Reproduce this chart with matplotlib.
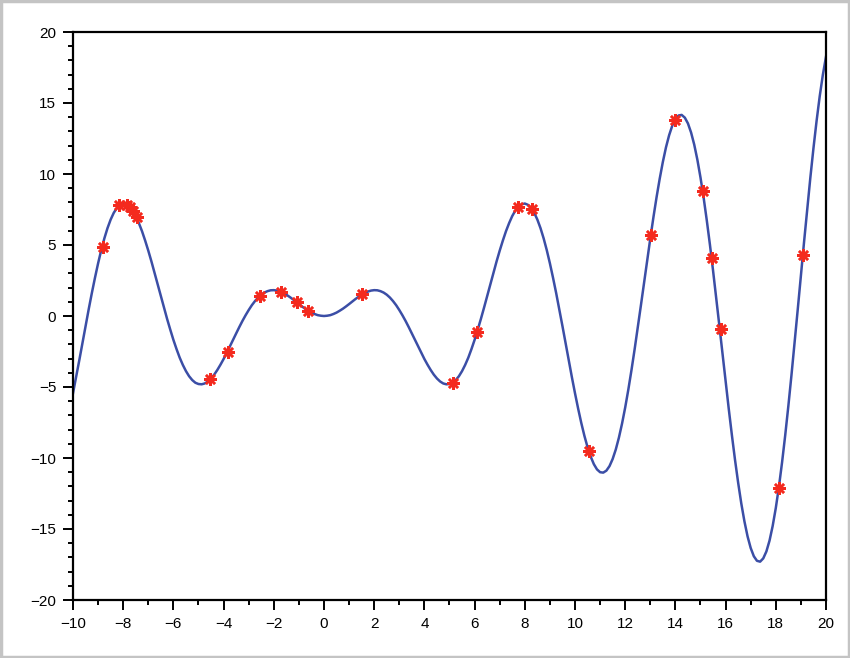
import numpy as np
import matplotlib
matplotlib.use("Agg")
import matplotlib.pyplot as plt
from matplotlib.patches import Rectangle
from matplotlib.ticker import MultipleLocator

# Curve samples; the curve is symmetric about x = 0.
# Values at x = 0, 0.25, 0.5, ..., 20
curve_y_grid = [0.00, 0.06, 0.24, 0.51, 0.84, 1.19, 1.50, 1.72, 1.82, 1.75,
                1.50, 1.05, 0.42, -0.35, -1.23, -2.14, -3.03, -3.80, -4.40, -4.75,
                -4.79, -4.51, -3.88, -2.93, -1.68, -0.21, 1.40, 3.04, 4.60, 5.97,
                7.04, 7.71, 7.92, 7.61, 6.79, 5.47, 3.71, 1.61, -0.71, -3.12,
                -5.44, -7.53, -9.24, -10.43, -11.00, -10.89, -10.07, -8.56, -6.44, -3.81,
                -0.83, 2.33, 5.46, 8.37, 10.85, 12.73, 13.87, 14.16, 13.56, 12.07,
                9.75, 6.74, 3.20, -0.66, -4.61, -8.38, -11.74, -14.46, -16.34, -17.24,
                -17.07, -15.82, -13.52, -10.30, -6.34, -1.86, 2.85, 7.50, 11.81, 15.48,
                18.26]
# Values at x = 0.125, 0.375, ..., 19.875
curve_y_half = [0.02, 0.14, 0.37, 0.67, 1.02, 1.35, 1.62, 1.79, 1.81, 1.65,
                1.30, 0.76, 0.05, -0.78, -1.68, -2.59, -3.43, -4.13, -4.61, -4.81,
                -4.70, -4.24, -3.44, -2.33, -0.96, 0.58, 2.22, 3.84, 5.31, 6.54,
                7.43, 7.87, 7.83, 7.27, 6.19, 4.64, 2.69, 0.47, -1.91, -4.30,
                -6.52, -8.44, -9.90, -10.80, -11.03, -10.57, -9.40, -7.57, -5.18, -2.35,
                0.74, 3.91, 6.96, 9.67, 11.88, 13.40, 14.12, 13.97, 12.92, 11.01,
                8.33, 5.03, 1.30, -2.64, -6.53, -10.13, -13.20, -15.52, -16.92, -17.30,
                -16.58, -14.79, -12.02, -8.40, -4.15, 0.48, 5.20, 9.72, 13.74, 16.99]

# Red sample points
pts_x = [-8.80, -8.155, -7.86, -7.73, -7.62, -7.46, -4.54, -3.84, -2.55, -1.725,
         -1.09, -0.625, 1.50, 5.15, 6.08, 7.74, 8.30, 10.57, 13.02, 14.00,
         15.10, 15.45, 15.80, 18.13, 19.10]
pts_y = [4.86, 7.82, 7.82, 7.70, 7.42, 6.99, -4.46, -2.51, 1.41, 1.71,
         0.96, 0.37, 1.53, -4.70, -1.15, 7.70, 7.51, -9.51, 5.70, 13.80,
         8.82, 4.06, -0.89, -12.13, 4.30]

xticks = list(range(-10, 21, 2))
yticks = list(range(-20, 21, 5))

# arrange the read samples in x order (x = 0, 0.125, ..., 20), then mirror for x < 0
y_pos = []
for i in range(len(curve_y_half)):
    y_pos.append(curve_y_grid[i])
    y_pos.append(curve_y_half[i])
y_pos.append(curve_y_grid[-1])
x_pos = [i * 0.125 for i in range(len(y_pos))]
n_neg = 80  # x = -10 ... -0.125
curve_x = [-x_pos[i] for i in range(n_neg, 0, -1)] + x_pos
curve_y = [y_pos[i] for i in range(n_neg, 0, -1)] + y_pos

plt.rcParams['font.family'] = ['Liberation Sans', 'DejaVu Sans']

fig = plt.figure(figsize=(8.5, 6.58), dpi=100)
fig.patch.set_facecolor('white')
fig.patches.append(Rectangle((0.0015, 0.002), 0.997, 0.996, transform=fig.transFigure,
                             fill=False, edgecolor='#c4c4c4', linewidth=2.5))

ax = fig.add_axes([73/850, 1 - 600/658, (826 - 73)/850, (600 - 32)/658])
ax.plot(curve_x, curve_y, color='#3b4ea6', linewidth=1.8, zorder=2,
        solid_joinstyle='round')
ax.plot(pts_x, pts_y, linestyle='none', marker=(8, 2, 0), markersize=9,
        markeredgewidth=1.8, color='#f42a1e', markeredgecolor='#f42a1e', zorder=3)

ax.set_xlim(-10, 20)
ax.set_ylim(-20, 20)
ax.set_xticks(xticks)
ax.set_yticks(yticks)
ax.xaxis.set_minor_locator(MultipleLocator(1))
ax.yaxis.set_minor_locator(MultipleLocator(1))
ax.tick_params(which='major', direction='out', length=7, width=1.4, labelsize=11,
               color='black', labelcolor='black')
ax.tick_params(which='minor', direction='out', length=3.6, width=1.4, color='black')
ax.tick_params(axis='x', which='major', pad=5)
ax.tick_params(axis='y', which='major', pad=5)
for s in ax.spines.values():
    s.set_linewidth(1.6)
    s.set_color('black')

fig.savefig('out.png', dpi=100)
